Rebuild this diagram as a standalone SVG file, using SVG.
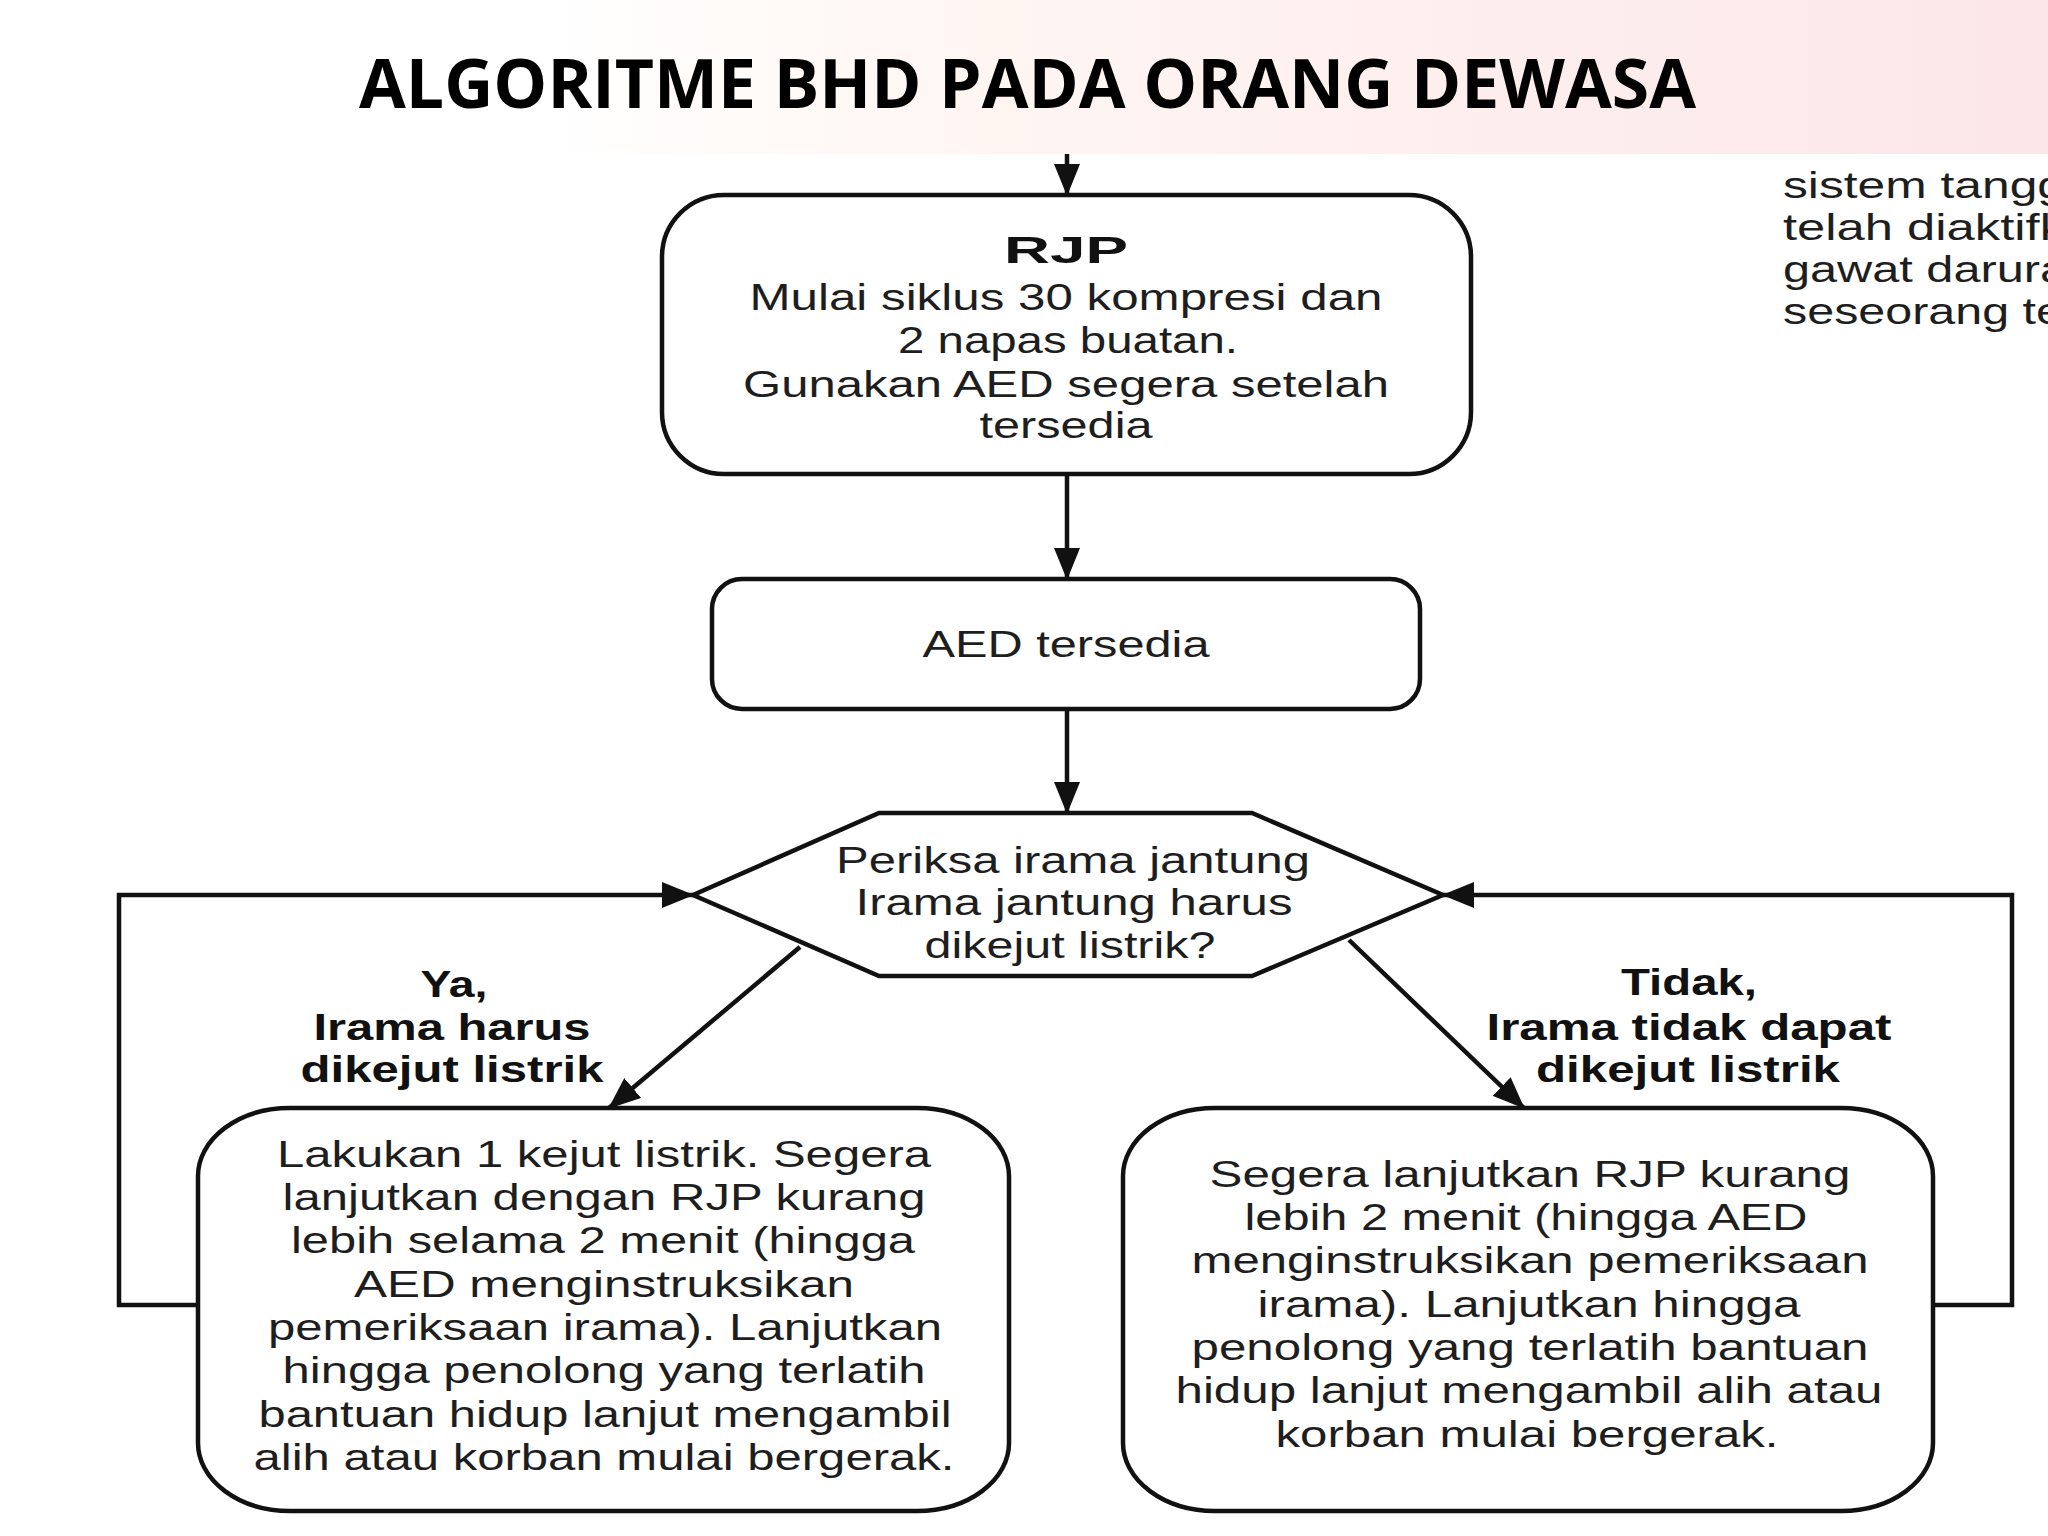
<svg xmlns="http://www.w3.org/2000/svg" width="2048" height="1536" viewBox="0 0 2048 1536">
<defs>
<linearGradient id="hdr" x1="0" y1="0" x2="1" y2="0">
<stop offset="0" stop-color="#ffffff"/>
<stop offset="0.27" stop-color="#ffffff"/>
<stop offset="0.45" stop-color="#fff7f3"/>
<stop offset="1" stop-color="#fce6e8"/>
</linearGradient>
<marker id="ah" markerUnits="userSpaceOnUse" markerWidth="32" markerHeight="26" refX="31" refY="13" orient="auto">
<path d="M0,0 L32,13 L0,26 z" fill="#111"/>
</marker>
<style>
.box{fill:#fff;stroke:#111;stroke-width:4.5}
.con{fill:none;stroke:#111;stroke-width:4.5}
.t{font-family:"Liberation Sans",Arial,sans-serif;font-size:37px;fill:#1e1e1e;text-anchor:middle}
.b{font-weight:bold;fill:#111}
.side{font-family:"Liberation Sans",Arial,sans-serif;font-size:37px;fill:#1e1e1e}
</style>
</defs>
<rect x="0" y="0" width="2048" height="1536" fill="#fff"/>
<rect x="0" y="0" width="2048" height="154" fill="url(#hdr)"/>
<text x="359" y="108" font-family="'Open Sans','Liberation Sans',sans-serif" font-weight="bold" font-size="68" fill="#000" textLength="1337" lengthAdjust="spacingAndGlyphs">ALGORITME BHD PADA ORANG DEWASA</text>

<g id="side-text">
<text class="side" x="1783" y="198" textLength="282" lengthAdjust="spacingAndGlyphs">sistem tangg</text>
<text class="side" x="1783" y="240" textLength="282" lengthAdjust="spacingAndGlyphs">telah diaktifk</text>
<text class="side" x="1783" y="282" textLength="284" lengthAdjust="spacingAndGlyphs">gawat darura</text>
<text class="side" x="1783" y="324" textLength="280" lengthAdjust="spacingAndGlyphs">seseorang te</text>
</g>

<g id="connectors">
<line class="con" x1="1067" y1="154" x2="1067" y2="195" marker-end="url(#ah)"/>
<line class="con" x1="1067" y1="474" x2="1067" y2="579" marker-end="url(#ah)"/>
<line class="con" x1="1067" y1="709" x2="1067" y2="813" marker-end="url(#ah)"/>
<line class="con" x1="800" y1="947" x2="609" y2="1108" marker-end="url(#ah)"/>
<line class="con" x1="1349" y1="940" x2="1524" y2="1108" marker-end="url(#ah)"/>
<polyline class="con" points="198,1305 119,1305 119,895 693,895" marker-end="url(#ah)"/>
<polyline class="con" points="1933,1305 2012,1305 2012,895 1443,895" marker-end="url(#ah)"/>
</g>

<g id="node-rjp">
<rect class="box" x="662" y="195" width="809" height="279" rx="62" ry="62"/>
<text class="t b" x="1066" y="263" font-size="50" textLength="124" lengthAdjust="spacingAndGlyphs">RJP</text>
<text class="t" x="1066" y="310" textLength="633" lengthAdjust="spacingAndGlyphs">Mulai siklus 30 kompresi dan</text>
<text class="t" x="1068" y="353" textLength="340" lengthAdjust="spacingAndGlyphs">2 napas buatan.</text>
<text class="t" x="1066" y="397" textLength="646" lengthAdjust="spacingAndGlyphs">Gunakan AED segera setelah</text>
<text class="t" x="1066" y="438" textLength="173" lengthAdjust="spacingAndGlyphs">tersedia</text>
</g>

<g id="node-aed">
<rect class="box" x="712" y="579" width="708" height="130" rx="30" ry="30"/>
<text class="t" x="1066" y="657" textLength="287" lengthAdjust="spacingAndGlyphs">AED tersedia</text>
</g>

<g id="node-check">
<polygon class="box" points="693,895 879,813 1252,813 1443,895 1252,976 879,976"/>
<text class="t" x="1073" y="873" textLength="474" lengthAdjust="spacingAndGlyphs">Periksa irama jantung</text>
<text class="t" x="1074" y="915" textLength="437" lengthAdjust="spacingAndGlyphs">Irama jantung harus</text>
<text class="t" x="1070" y="958" textLength="291" lengthAdjust="spacingAndGlyphs">dikejut listrik?</text>
</g>

<g id="label-ya">
<text class="t b" x="454" y="997" textLength="67" lengthAdjust="spacingAndGlyphs">Ya,</text>
<text class="t b" x="452" y="1040" textLength="277" lengthAdjust="spacingAndGlyphs">Irama harus</text>
<text class="t b" x="452" y="1082" textLength="303" lengthAdjust="spacingAndGlyphs">dikejut listrik</text>
</g>

<g id="label-tidak">
<text class="t b" x="1689" y="995" textLength="136" lengthAdjust="spacingAndGlyphs">Tidak,</text>
<text class="t b" x="1689" y="1040" textLength="405" lengthAdjust="spacingAndGlyphs">Irama tidak dapat</text>
<text class="t b" x="1688" y="1082" textLength="304" lengthAdjust="spacingAndGlyphs">dikejut listrik</text>
</g>

<g id="node-shock">
<rect class="box" x="198" y="1108" width="811" height="403" rx="92" ry="68"/>
<text class="t" x="604" y="1167" textLength="654" lengthAdjust="spacingAndGlyphs">Lakukan 1 kejut listrik. Segera</text>
<text class="t" x="604" y="1210" textLength="643" lengthAdjust="spacingAndGlyphs">lanjutkan dengan RJP kurang</text>
<text class="t" x="603" y="1253" textLength="624" lengthAdjust="spacingAndGlyphs">lebih selama 2 menit (hingga</text>
<text class="t" x="604" y="1297" textLength="500" lengthAdjust="spacingAndGlyphs">AED menginstruksikan</text>
<text class="t" x="605" y="1340" textLength="674" lengthAdjust="spacingAndGlyphs">pemeriksaan irama). Lanjutkan</text>
<text class="t" x="604" y="1383" textLength="643" lengthAdjust="spacingAndGlyphs">hingga penolong yang terlatih</text>
<text class="t" x="605" y="1427" textLength="693" lengthAdjust="spacingAndGlyphs">bantuan hidup lanjut mengambil</text>
<text class="t" x="604" y="1470" textLength="701" lengthAdjust="spacingAndGlyphs">alih atau korban mulai bergerak.</text>
</g>

<g id="node-noshock">
<rect class="box" x="1123" y="1108" width="810" height="403" rx="92" ry="68"/>
<text class="t" x="1530" y="1187" textLength="641" lengthAdjust="spacingAndGlyphs">Segera lanjutkan RJP kurang</text>
<text class="t" x="1526" y="1230" textLength="563" lengthAdjust="spacingAndGlyphs">lebih 2 menit (hingga AED</text>
<text class="t" x="1530" y="1273" textLength="677" lengthAdjust="spacingAndGlyphs">menginstruksikan pemeriksaan</text>
<text class="t" x="1529" y="1317" textLength="543" lengthAdjust="spacingAndGlyphs">irama). Lanjutkan hingga</text>
<text class="t" x="1530" y="1360" textLength="677" lengthAdjust="spacingAndGlyphs">penolong yang terlatih bantuan</text>
<text class="t" x="1529" y="1403" textLength="707" lengthAdjust="spacingAndGlyphs">hidup lanjut mengambil alih atau</text>
<text class="t" x="1527" y="1447" textLength="503" lengthAdjust="spacingAndGlyphs">korban mulai bergerak.</text>
</g>
</svg>
